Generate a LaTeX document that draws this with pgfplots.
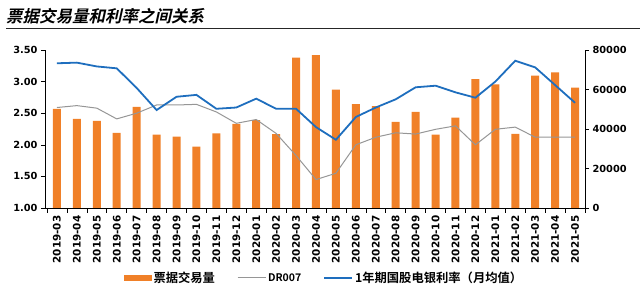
\documentclass[border=0pt]{standalone}
\usepackage{pgfplots}
\pgfplotsset{compat=1.18}
\usepackage{fontspec}
\setmainfont{DejaVu Sans}
\newfontfamily\cjk{Noto Sans CJK SC}[BoldFont={Noto Sans CJK SC Bold}]
\newfontfamily\cjktitle{Noto Sans CJK SC Bold}[FakeSlant=0.22]
\definecolor{barorange}{RGB}{240,128,40}
\definecolor{lineblue}{RGB}{30,110,190}
\definecolor{linegray}{RGB}{150,150,150}
\pgfplotsset{
  lineleg/.style={legend image code/.code={\draw[##1] (0pt,0pt) -- (28pt,0pt);}},
  barleg/.style={legend image code/.code={\fill[barorange] (0pt,-2.5pt) rectangle (27pt,2.5pt);}},
}
\pgfplotstableread{
x bars dr blue
0 50240 2.59 3.29
1 45120 2.62 3.30
2 44160 2.58 3.24
3 38080 2.41 3.21
4 51200 2.50 2.90
5 37120 2.63 2.55
6 36160 2.63 2.76
7 31040 2.64 2.79
8 37760 2.52 2.57
9 42560 2.34 2.59
10 44480 2.40 2.73
11 37440 2.18 2.57
12 76160 1.83 2.57
13 77440 1.45 2.28
14 60000 1.55 2.08
15 52600 2.00 2.44
16 51600 2.12 2.59
17 43600 2.19 2.72
18 48700 2.17 2.91
19 37200 2.245 2.935
20 45700 2.30 2.83
21 65300 2.00 2.745
22 62600 2.245 3.00
23 37500 2.28 3.33
24 67000 2.12 3.225
25 68700 2.12 2.945
26 61000 2.12 2.665
}\datatable
\begin{document}
\begin{tikzpicture}[x=1pt,y=1pt]
\path[use as bounding box] (0,0) rectangle (640,298);
\node[anchor=west, inner sep=0] at (6,281.5) {\cjktitle\fontsize{16.5}{17}\selectfont 票据交易量和利率之间关系};
\draw[line width=1pt, black!85] (6,269) -- (640,269);
\pgfplotsset{
  every axis/.append style={
    scale only axis, width=540pt, height=158pt,
    at={(45pt,90pt)}, anchor=south west,
    xmin=-0.6, xmax=26.5,
    tick align=outside,
    major tick length=4pt,
    /pgf/number format/assume math mode=true,
    tick label style={font=\bfseries\fontsize{9.8}{10}\selectfont},
    axis line style={black, line width=0.8pt},
    every tick/.style={black, line width=0.6pt},
  }
}
\begin{axis}[
  ymin=0, ymax=80000,
  axis y line*=right, axis x line=none,
  ytick={0,20000,40000,60000,80000},
  yticklabel style={/pgf/number format/1000 sep={}, /pgf/number format/fixed},
  scaled y ticks=false,
]
\addplot[ybar, bar width=8pt, fill=barorange, draw=none] table[x=x, y=bars] {\datatable};
\end{axis}
\begin{axis}[
  ymin=1, ymax=3.5,
  axis y line*=left, axis x line*=bottom,
  ytick={1,1.5,2,2.5,3,3.5},
  yticklabel style={/pgf/number format/fixed, /pgf/number format/fixed zerofill, /pgf/number format/precision=2},
  xtick={0,...,26},
  xticklabels={2019-03,2019-04,2019-05,2019-06,2019-07,2019-08,2019-09,2019-10,2019-11,2019-12,2020-01,2020-02,2020-03,2020-04,2020-05,2020-06,2020-07,2020-08,2020-09,2020-10,2020-11,2020-12,2021-01,2021-02,2021-03,2021-04,2021-05},
  xticklabel style={rotate=90, anchor=east, font=\bfseries\fontsize{10.4}{11}\selectfont},
  major x tick style={draw=none},
  minor xtick={-0.5,0.5,...,26.5},
  minor tick length=4.5pt,
  legend style={at={(0.517,-0.443)}, anchor=center, draw=none, fill=none,
    font=\cjk\bfseries\fontsize{12.3}{13}\selectfont,
    /tikz/every even column/.append style={column sep=20pt}},
  legend columns=3,
]
\addlegendimage{barleg}
\addlegendentry{票据交易量}
\addplot[linegray, line width=1pt, lineleg] table[x=x, y=dr] {\datatable};
\addlegendentry{\fontsize{10.5}{12}\selectfont DR007}
\addplot[lineblue, line width=1.8pt, lineleg] table[x=x, y=blue] {\datatable};
\addlegendentry{1年期国股电银利率（月均值）}
\end{axis}
\end{tikzpicture}
\end{document}
